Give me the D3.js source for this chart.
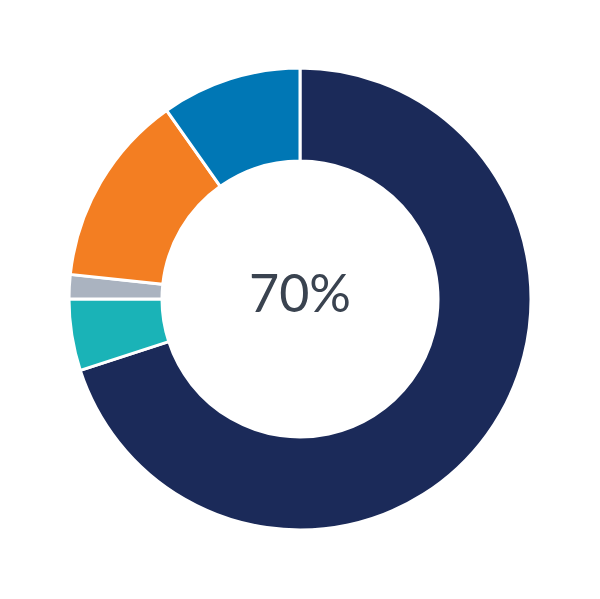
<!DOCTYPE html>
<html>
<head>
<meta charset="utf-8">
<script src="https://cdn.jsdelivr.net/npm/d3@7"></script>
<style>
  html, body { margin: 0; padding: 0; background: #fff; }
  #chart { width: 600px; height: 599px; }
</style>
</head>
<body>
<div id="chart"></div>
<script>
// slice data, clockwise from 12 o'clock
const categories = ["A", "B", "C", "D", "E"];
const values = [70, 5, 1.7, 13.5, 9.8];
const colors = ["#1b2a59", "#1ab3b7", "#aab3c0", "#f37e22", "#0077b5"];
const centerLabel = "70%";

const width = 600,
    height = 599;

const svg = d3.select("#chart")
    .append("svg")
    .attr("width", width)
    .attr("height", height)
    .append("g")
    .attr("transform", `translate(300,299)`);

const pie = d3.pie()
    .sort(null)
    .value(d => d.value);

const arc = d3.arc()
    .innerRadius(138)
    .outerRadius(231);

const data = categories.map((c, i) => ({ name: c, value: values[i], color: colors[i] }));

svg.selectAll(".slice")
    .data(pie(data))
    .enter().append("path")
    .attr("class", "slice")
    .attr("d", arc)
    .attr("fill", d => d.data.color)
    .attr("stroke", "white")
    .attr("stroke-width", 3)
    .attr("stroke-linejoin", "miter");

// big number in the middle
svg.append("text")
    .attr("x", 0)
    .attr("y", -5)
    .attr("dy", "0.35em")
    .attr("text-anchor", "middle")
    .style("fill", "#3a4350")
    .style("font-family", "Lato, 'Open Sans', sans-serif")
    .style("font-size", "52px")
    .text(centerLabel);
</script>
</body>
</html>
